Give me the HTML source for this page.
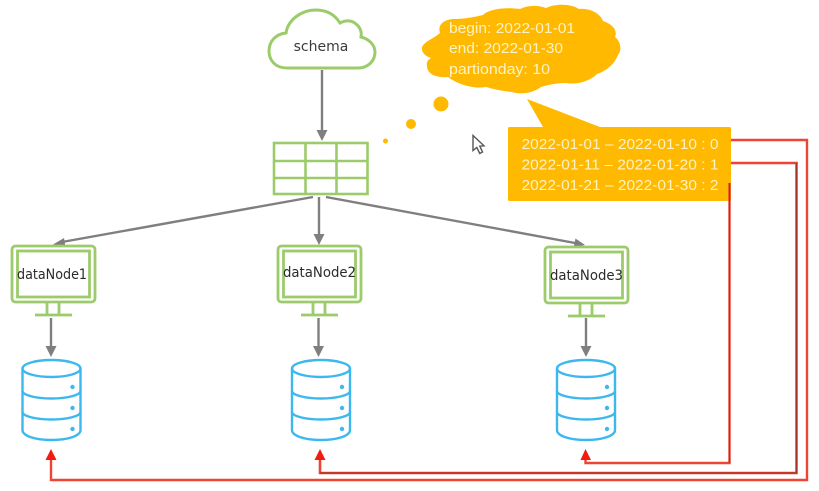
<!DOCTYPE html>
<html><head><meta charset="utf-8"><style>
html,body{margin:0;padding:0;background:#fff}
svg{display:block}
text{font-family:"DejaVu Sans","Liberation Sans",sans-serif}
text.c{font-family:"Liberation Sans",sans-serif}
</style></head><body>
<svg width="819" height="491" viewBox="0 0 819 491" xmlns="http://www.w3.org/2000/svg">
<defs>
<g id="mon" fill="none" stroke="#9ccb6b" stroke-width="2.800">
<rect x="0" y="0" width="83" height="56" rx="3.500"/>
<rect x="5.500" y="5" width="72" height="46"/>
<path d="M35 56V69M47 56V69M23 69H60"/>
</g>
<g id="db" fill="none" stroke="#3db8ee" stroke-width="2.400">
<ellipse cx="30" cy="8.500" rx="29" ry="8.500"/>
<path d="M1 8.500V70C1 76 14 80 30 80C46 80 59 76 59 70V8.500"/>
<path d="M1 31C1 35 14 38.500 30 38.500C46 38.500 59 35 59 31"/>
<path d="M1 52C1 56 14 59.500 30 59.500C46 59.500 59 56 59 52"/>
<circle cx="51" cy="27" r="2.200" fill="#3db8ee" stroke="none"/>
<circle cx="51" cy="48" r="2.200" fill="#3db8ee" stroke="none"/>
<circle cx="51" cy="69" r="2.200" fill="#3db8ee" stroke="none"/>
</g>
</defs>
<rect width="819" height="491" fill="#fff"/>

<!-- schema cloud -->
<path d="M287 68C275 68 269 60 269 51C269 41 276 34 286 33C288 20 301 10 316 10C327 10 335 15 340 23C345 20 352 20 356 24C360 27 362 32 361 37C369 39 375 45 375 52C375 61 368 68 358 68Z" fill="#fff" stroke="#9ccb6b" stroke-width="3"/>
<text x="321" y="51" font-size="14" fill="#3b3b3b" text-anchor="middle">schema</text>

<!-- grey connectors -->
<g stroke="#7f7f7f" stroke-width="2.400" fill="#7f7f7f">
<path d="M322 70V133" fill="none"/>
<path d="M316.500 130H327.500L322 141Z" stroke="none"/>
<path d="M313 197L62 242" fill="none"/>
<path d="M53 244.500L64 238L65.500 247Z" stroke="none"/>
<path d="M319 197V237" fill="none"/>
<path d="M313.500 234H324.500L319 245Z" stroke="none"/>
<path d="M326 197L575 243" fill="none"/>
<path d="M585 245L573.500 247.500L575.500 238.500Z" stroke="none"/>
<path d="M51 318V348" fill="none"/>
<path d="M45.500 346H56.500L51 357Z" stroke="none"/>
<path d="M318.500 318V348" fill="none"/>
<path d="M313 346H324L318.500 357Z" stroke="none"/>
<path d="M586 318V348" fill="none"/>
<path d="M580.500 346H591.500L586 357Z" stroke="none"/>
</g>

<!-- table -->
<g fill="none" stroke="#9ccb6b" stroke-width="2.600">
<rect x="274" y="143" width="93.500" height="51"/>
<path d="M274 161H367M274 178H367M305.500 143V194M336.500 143V194"/>
</g>

<!-- monitors -->
<use href="#mon" x="12" y="246"/>
<use href="#mon" x="278" y="246"/>
<use href="#mon" x="545" y="247"/>
<g font-size="14" fill="#2b2b2b">
<text x="17" y="279" textLength="70" lengthAdjust="spacingAndGlyphs">dataNode1</text>
<text x="283" y="277" textLength="73" lengthAdjust="spacingAndGlyphs">dataNode2</text>
<text x="550" y="280" textLength="73" lengthAdjust="spacingAndGlyphs">dataNode3</text>
</g>

<!-- databases -->
<use href="#db" x="21.500" y="360"/>
<use href="#db" x="291" y="360"/>
<use href="#db" x="556" y="360"/>

<!-- thought cloud -->
<path d="M440 33C437 24 445 19 455 19C465 19 474 17 483 15C489 9 505 7 520 9C528 5 538 5 546 8C556 3 572 4 579 9C590 8 600 13 603 21C612 24 618 30 615 37C621 42 622 50 618 55C614 65 606 71 597 74C590 81 578 85 566 83C556 83 548 85 541 87C533 93 521 95 512 92C502 91 493 89 486 87C473 89 459 85 448 77C436 78 427 74 427 66C426 62 428 60 431 58C424 56 421 51 422 47C425 41 433 39 440 33Z" fill="#ffb900"/>
<circle cx="441" cy="104" r="7.500" fill="#ffb900"/>
<circle cx="411" cy="124" r="5" fill="#ffb900"/>
<circle cx="385.500" cy="141" r="2.500" fill="#ffb900"/>
<g font-size="14.500" fill="#fff3c4">
<text class="c" x="449" y="33" textLength="126" lengthAdjust="spacingAndGlyphs">begin: 2022-01-01</text>
<text class="c" x="449" y="53" textLength="114" lengthAdjust="spacingAndGlyphs">end: 2022-01-30</text>
<text class="c" x="449" y="74" textLength="101" lengthAdjust="spacingAndGlyphs">partionday: 10</text>
</g>

<!-- callout -->
<path d="M527 99L600 127H729.500Q731 127 731 128.500V199.500Q731 201 729.500 201H509.500Q508 201 508 199.500V128.500Q508 127 509.500 127H543Z" fill="#ffb900"/>
<g font-size="14.500" fill="#fff3c4">
<text class="c" x="521.500" y="149" textLength="197" lengthAdjust="spacingAndGlyphs">2022-01-01 – 2022-01-10 : 0</text>
<text class="c" x="521.500" y="169.500" textLength="197" lengthAdjust="spacingAndGlyphs">2022-01-11 – 2022-01-20 : 1</text>
<text class="c" x="521.500" y="190" textLength="197" lengthAdjust="spacingAndGlyphs">2022-01-21 – 2022-01-30 : 2</text>
</g>

<!-- cursor -->
<path d="M473 135.500V150.500L476.800 147.500L479.800 153.500L482.500 152L479.800 146.200L484 145.800Z" fill="#fff" stroke="#555" stroke-width="1.400"/>

<!-- red connectors -->
<g fill="none">
<path d="M731 140H807V480H51V458" stroke="#ee4433" stroke-width="2.400"/>
<path d="M731 163H796.500V473H320V458" stroke="#ee4433" stroke-width="2.600"/>
<path d="M796.500 163V473H320" stroke="#a83226" stroke-width="1.200"/>
<path d="M729.500 183V463H585.500V458" stroke="#ee4433" stroke-width="2.400"/>
<path d="M729.500 183V463" stroke="#a83226" stroke-width="1.200"/>
</g>
<g fill="#f01c10">
<path d="M45.500 460H56.500L51 449Z"/>
<path d="M314.500 460H325.500L320 449Z"/>
<path d="M580.500 460H591L585.500 449Z"/>
</g>
</svg>
</body></html>
